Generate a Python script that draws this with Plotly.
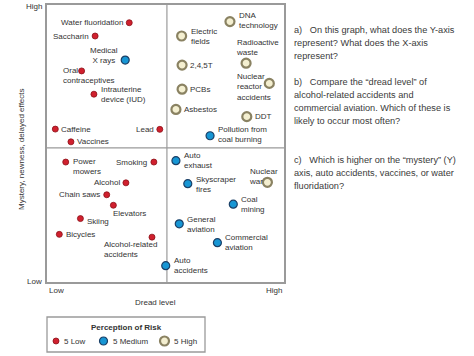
import plotly.graph_objects as go

# ---------------- data ----------------
names = [
    "Water fluoridation", "Saccharin", "Medical<br>X rays", "Oral<br>contraceptives",
    "Intrauterine<br>device (IUD)", "Caffeine", "Lead", "Vaccines",
    "DNA<br>technology", "Electric<br>fields", "Radioactive<br>waste", "2,4,5T",
    "Nuclear<br>reactor<br>accidents", "PCBs", "Asbestos", "DDT",
    "Pollution from<br>coal burning", "Power<br>mowers", "Smoking", "Alcohol",
    "Chain saws", "Elevators", "Skiing", "Bicycles",
    "Alcohol-related<br>accidents", "Auto<br>exhaust", "Skyscraper<br>fires", "Nuclear<br>war",
    "Coal<br>mining", "General<br>aviation", "Commercial<br>aviation", "Auto<br>accidents",
]
dread = [34.7, 20.3, 33.0, 14.6, 19.8, 3.5, 47.6, 10.1,
         77.2, 56.8, 84.0, 57.0, 93.8, 57.0, 54.4, 84.3,
         68.8, 7.9, 45.1, 33.3, 25.2, 28.0, 14.1, 5.2,
         44.3, 54.4, 59.4, 93.0, 78.6, 55.8, 71.9, 50.1]
mystery = [93.6, 88.8, 80.1, 76.2, 67.8, 55.2, 55.1, 50.6,
           94.0, 88.8, 79.0, 78.3, 71.7, 69.6, 62.3, 59.7,
           52.8, 43.3, 43.3, 35.8, 31.5, 27.7, 22.9, 17.2,
           16.2, 43.8, 35.5, 36.0, 28.1, 21.0, 14.2, 5.9]
risk = ["Low", "Low", "Medium", "Low", "Low", "Low", "Low", "Low",
        "High", "High", "High", "High", "High", "High", "High", "High",
        "Medium", "Low", "Low", "Low", "Low", "Low", "Low", "Low",
        "Low", "Medium", "Medium", "High", "Medium", "Medium", "Medium", "Medium"]
risk_levels = ["Low", "Medium", "High"]
legend_labels = ["5 Low", "5 Medium", "5 High"]
mid_dread = 50.6
mid_mystery = 48.4

questions = [
    ["a)\u00a0\u00a0\u00a0On this graph, what does the Y-axis",
     "represent? What does the X-axis", "represent?"],
    ["b)\u00a0\u00a0\u00a0Compare the \u201cdread level\u201d of",
     "alcohol-related accidents and", "commercial aviation. Which of these is",
     "likely to occur most often?"],
    ["c)\u00a0\u00a0\u00a0Which is higher on the \u201cmystery\u201d (Y)",
     "axis, auto accidents, vaccines, or water", "fluoridation?"],
]

# ---------------- styles ----------------
W, H = 474, 356
PL, PR, PT, PB = 47, 284, 5, 282  # plot box in pixels
FONT = "Liberation Sans, Arial, sans-serif"
TXT = "#333333"
GRID = "#9a9a9a"
mstyle = {
    "Low": dict(size=6, color="#d0202e", line=dict(color="#8a1018", width=0.8)),
    "Medium": dict(size=8, color="#1796d4", line=dict(color="#1b3f66", width=1.2)),
    "High": dict(size=9, color="#f4efd0", line=dict(color="#8a8262", width=2.2)),
}
# label placement per point: (xanchor, xshift, yanchor, yshift, align)
lab = [
    ("right", -4, "middle", 0, "right"), ("right", -4, "middle", 0, "right"),
    ("right", -5, "middle", 5, "center"), ("left", -21, "middle", -4.5, "left"),
    ("left", 5, "middle", 0, "left"), ("left", 4, "middle", 0, "left"),
    ("right", -4, "middle", 0, "right"), ("left", 4, "middle", 0, "left"),
    ("left", 7, "middle", 1.5, "left"), ("left", 7, "middle", 0, "left"),
    ("left", -12, "bottom", 4, "left"), ("left", 6, "middle", 0, "left"),
    ("left", -34, "middle", -3.5, "left"), ("left", 6, "middle", 0, "left"),
    ("left", 6, "middle", 0, "left"), ("left", 6, "middle", 0, "left"),
    ("left", 6, "middle", 1, "left"), ("left", 5, "middle", -4.5, "left"),
    ("right", -5, "middle", 0, "right"), ("right", -4, "middle", 0, "right"),
    ("right", -5, "middle", 0, "right"), ("left", -2, "middle", -8.7, "left"),
    ("left", 5, "middle", -3, "left"), ("left", 5, "middle", 0, "left"),
    ("left", -50, "middle", -12, "left"), ("left", 6, "middle", 0, "left"),
    ("left", 6, "middle", -1, "left"), ("left", -20, "middle", 5.5, "left"),
    ("left", 6, "middle", 0, "left"), ("left", 6, "middle", -1, "left"),
    ("left", 6, "middle", 0, "left"), ("left", 6, "middle", 0, "left"),
]

def px(x):
    return x / W

def py(y):
    return 1 - y / H

fig = go.Figure()
for lvl in risk_levels:
    idx = [i for i, r in enumerate(risk) if r == lvl]
    fig.add_trace(go.Scatter(
        x=[dread[i] for i in idx], y=[mystery[i] for i in idx],
        mode="markers", marker=mstyle[lvl], showlegend=False, hoverinfo="skip",
        cliponaxis=False))

annotations = []
for i, n in enumerate(names):
    xa, xs, ya, ys, al = lab[i]
    annotations.append(dict(x=dread[i], y=mystery[i], xref="x", yref="y", text=n,
                            showarrow=False, xanchor=xa, yanchor=ya, xshift=xs, yshift=ys,
                            align=al, font=dict(family=FONT, size=8, color=TXT)))

# axis texts
af = dict(family=FONT, size=8, color=TXT)
annotations += [
    dict(x=px(PL - 3), y=py(PT + 2), xref="paper", yref="paper", text="High", showarrow=False,
         xanchor="right", yanchor="middle", font=af),
    dict(x=px(PL - 3), y=py(PB - 1), xref="paper", yref="paper", text="Low", showarrow=False,
         xanchor="right", yanchor="middle", font=af),
    dict(x=px(PL), y=py(PB + 8), xref="paper", yref="paper", text="Low", showarrow=False,
         xanchor="left", yanchor="middle", font=af),
    dict(x=px(PR), y=py(PB + 8), xref="paper", yref="paper", text="High", showarrow=False,
         xanchor="right", yanchor="middle", font=af),
    dict(x=px(155), y=py(302), xref="paper", yref="paper", text="Dread level", showarrow=False,
         xanchor="center", yanchor="middle", font=af),
    dict(x=px(21), y=py(149), xref="paper", yref="paper", text="Mystery, newness, delayed effects",
         showarrow=False, textangle=-90, xanchor="center", yanchor="middle", font=af),
    dict(x=px(126.5), y=py(327), xref="paper", yref="paper", text="<b>Perception of Risk</b>",
         showarrow=False, xanchor="center", yanchor="middle", font=af),
]

# legend (manual)
leg_dot_x = [56, 103.5, 164.5]
leg_txt_x = [62, 110.5, 172]
shapes = [dict(type="rect", xref="paper", yref="paper", x0=px(47), x1=px(205), y0=py(352), y1=py(317),
               line=dict(color=GRID, width=1.3), fillcolor="rgba(0,0,0,0)")]
for k, lvl in enumerate(risk_levels):
    fig.add_trace(go.Scatter(x=[leg_dot_x[k]], y=[341], xaxis="x2", yaxis="y2", mode="markers",
                             marker=mstyle[lvl], showlegend=False, hoverinfo="skip"))
    annotations.append(dict(x=px(leg_txt_x[k]), y=py(341.5), xref="paper", yref="paper",
                            text=legend_labels[k], showarrow=False, xanchor="left", yanchor="middle",
                            font=af))

# questions text
qy = [[30, 43.3, 56], [81.7, 95, 107.7, 120.7], [160, 172.7, 185.7]]
for p, lines in enumerate(questions):
    for j, line in enumerate(lines):
        annotations.append(dict(x=px(292), y=py(qy[p][j]), xref="paper", yref="paper", text=line,
                                showarrow=False, xanchor="left", yanchor="middle",
                                font=dict(family=FONT, size=9.2, color="#3a3a3a")))

# quadrant lines
shapes += [
    dict(type="line", xref="x", yref="y", x0=mid_dread, x1=mid_dread, y0=0, y1=100,
         line=dict(color=GRID, width=1.2), layer="below"),
    dict(type="line", xref="x", yref="y", x0=0, x1=100, y0=mid_mystery, y1=mid_mystery,
         line=dict(color=GRID, width=1.2), layer="below"),
]

fig.update_layout(
    width=W, height=H, margin=dict(l=0, r=0, t=0, b=0, pad=0),
    paper_bgcolor="white", plot_bgcolor="rgba(0,0,0,0)",
    xaxis=dict(domain=[px(PL), px(PR)], range=[0, 100], showgrid=False, zeroline=False,
               showticklabels=False, ticks="", showline=True, mirror=True,
               linecolor=GRID, linewidth=1.5, fixedrange=True),
    yaxis=dict(domain=[py(PB), py(PT)], range=[0, 100], showgrid=False, zeroline=False,
               showticklabels=False, ticks="", showline=True, mirror=True,
               linecolor=GRID, linewidth=1.5, fixedrange=True),
    xaxis2=dict(domain=[0, 1], range=[0, W], visible=False, anchor="y2"),
    yaxis2=dict(domain=[0, 1], range=[H, 0], visible=False, anchor="x2"),
    annotations=annotations, shapes=shapes, showlegend=False,
)

fig.write_html("out.html", config={"displayModeBar": False},
               post_script="document.body.style.margin='0';document.body.style.overflow='hidden';")
